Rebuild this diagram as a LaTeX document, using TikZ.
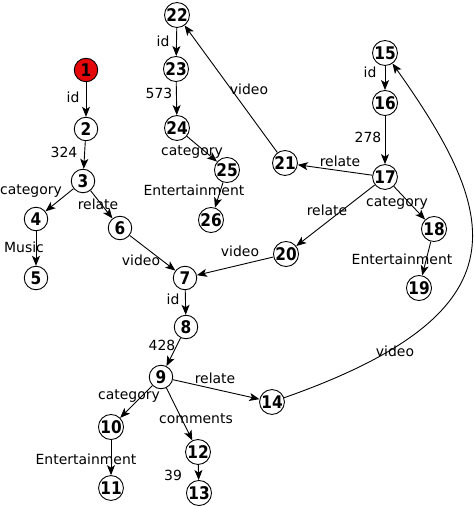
\documentclass[tikz,border=0pt]{standalone}
\usepackage{fontspec}
\setmainfont{DejaVu Sans}
\newfontfamily\numfont[FakeStretch=0.88]{DejaVu Sans}
\usetikzlibrary{arrows.meta}
\definecolor{nodered}{RGB}{228,8,10}
\tikzset{
  vtx/.style={circle, draw, line width=0.9bp, minimum size=23.5bp, inner sep=0pt, fill=white,
    font=\numfont\fontsize{17.5}{17.5}\selectfont\bfseries},
  lbl/.style={inner sep=0pt, font=\fontsize{14}{14}\selectfont},
  edge/.style={line width=0.9bp, -{Stealth[length=10bp,width=8bp,inset=2.5bp]}},
}
\begin{document}
\begin{tikzpicture}[x=1bp,y=-1bp]
\useasboundingbox (0,0) rectangle (474,506);
% nodes
\node[vtx, fill=nodered] (n1) at (86,70) {1};
\node[vtx] (n2) at (86,129) {2};
\node[vtx] (n3) at (83,181) {3};
\node[vtx] (n4) at (36,219) {4};
\node[vtx] (n5) at (36,278) {5};
\node[vtx] (n6) at (120,228) {6};
\node[vtx] (n7) at (185,278) {7};
\node[vtx] (n8) at (186,327) {8};
\node[vtx] (n9) at (161,377) {9};
\node[vtx] (n10) at (111,427) {10};
\node[vtx] (n11) at (111,488) {11};
\node[vtx] (n12) at (198,452) {12};
\node[vtx] (n13) at (199,493) {13};
\node[vtx] (n14) at (272,402) {14};
\node[vtx] (n15) at (385,53) {15};
\node[vtx] (n16) at (385,103) {16};
\node[vtx] (n17) at (385,177) {17};
\node[vtx] (n18) at (434,229) {18};
\node[vtx] (n19) at (419,288) {19};
\node[vtx] (n20) at (286,254) {20};
\node[vtx] (n21) at (285,163) {21};
\node[vtx] (n22) at (177,15) {22};
\node[vtx] (n23) at (176,69) {23};
\node[vtx] (n24) at (177,128) {24};
\node[vtx] (n25) at (227,170) {25};
\node[vtx] (n26) at (211,220) {26};
% curve control points
\coordinate (c1) at (528,312);
\coordinate (c2) at (500,215);
% edges
\draw[edge] (n1) -- (n2);
\draw[edge] (n2) -- (n3);
\draw[edge] (n3) -- (n4);
\draw[edge] (n3) -- (n6);
\draw[edge] (n4) -- (n5);
\draw[edge] (n6) -- (n7);
\draw[edge] (n20) -- (n7);
\draw[edge] (n7) -- (n8);
\draw[edge] (n8) -- (n9);
\draw[edge] (n9) -- (n14);
\draw[edge] (n9) -- (n10);
\draw[edge] (n9) -- (n12);
\draw[edge] (n10) -- (n11);
\draw[edge] (n12) -- (n13);
\draw[edge] (n14) .. controls (c1) and (c2) .. (n15);
\draw[edge] (n15) -- (n16);
\draw[edge] (n16) -- (n17);
\draw[edge] (n17) -- (n21);
\draw[edge] (n17) -- (n20);
\draw[edge] (n17) -- (n18);
\draw[edge] (n18) -- (n19);
\draw[edge] (n21) -- (n22);
\draw[edge] (n22) -- (n23);
\draw[edge] (n23) -- (n24);
\draw[edge] (n24) -- (n25);
\draw[edge] (n25) -- (n26);
% labels
\node[lbl] (l12) at (73,97) {id};
\node[lbl] (l23) at (64,152) {324};
\node[lbl] (l34) at (31,191) {category};
\node[lbl] (l36) at (98,204) {relate};
\node[lbl] (l45) at (24,247) {Music};
\node[lbl] (l67) at (141,260) {video};
\node[lbl] (l207) at (240,251) {video};
\node[lbl] (l78) at (173,299) {id};
\node[lbl] (l89) at (162,345) {428};
\node[lbl] (l914) at (215,378) {relate};
\node[lbl] (l910) at (129,396) {category};
\node[lbl] (l912) at (196,419) {comments};
\node[lbl] (l1011) at (86,459) {Entertainment};
\node[lbl] (l1213) at (173,475) {39};
\node[lbl] (l1415) at (395,351) {video};
\node[lbl] (l1516) at (370,72) {id};
\node[lbl] (l1617) at (368,137) {278};
\node[lbl] (l1721) at (340,161) {relate};
\node[lbl] (l1720) at (327,210) {relate};
\node[lbl] (l1718) at (397,203) {category};
\node[lbl] (l1819) at (402,259) {Entertainment};
\node[lbl] (l2122) at (249,89) {video};
\node[lbl] (l2223) at (163,41) {id};
\node[lbl] (l2324) at (159,93) {573};
\node[lbl] (l2425) at (192,152) {category};
\node[lbl] (l2526) at (194,190) {Entertainment};
\end{tikzpicture}
\end{document}
